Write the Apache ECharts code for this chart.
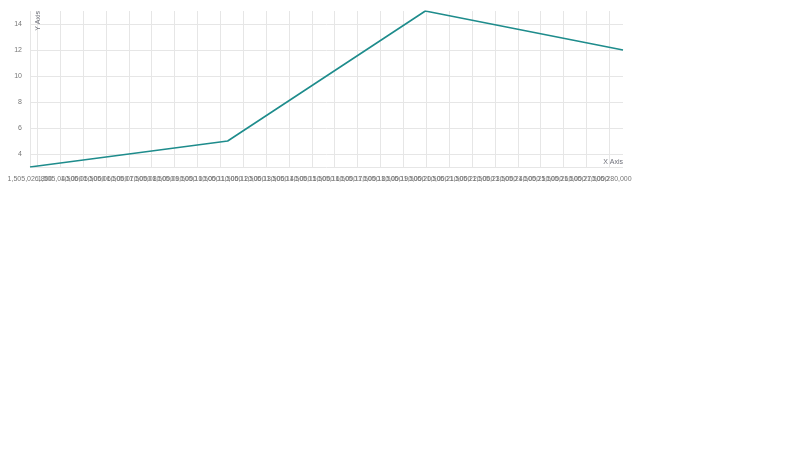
<!DOCTYPE html>
<html>
<head>
<meta charset="utf-8">
<script src="https://cdn.jsdelivr.net/npm/echarts@6/dist/echarts.min.js"></script>
<style>
html,body{margin:0;padding:0;background:#fff;}
#chart{width:800px;height:450px;}
</style>
</head>
<body>
<div id="chart"></div>
<script>
// Data (x: unix timestamps in seconds, one per day)
const xValues = [1505026800, 1505113200, 1505199600, 1505286000];
const yValues = [3, 5, 15, 12];
const xAxisName = 'X Axis';
const yAxisName = 'Y Axis';

const points = xValues.map((x, i) => [x, yValues[i]]);

const chart = echarts.init(document.getElementById('chart'));
chart.setOption({
  animation: false,
  grid: { left: 30, top: 11, width: 593, height: 156, containLabel: false },
  xAxis: {
    type: 'value',
    min: 'dataMin',
    max: 'dataMax',
    splitNumber: 26,
    name: xAxisName,
    nameLocation: 'end',
    nameGap: 0,
    nameTextStyle: { fontSize: 7, color: '#6e7079', align: 'right', verticalAlign: 'bottom', padding: [0, 0, 1, 0] },
    axisLine: { show: false },
    axisTick: { show: false },
    axisLabel: { fontSize: 7, color: '#777777', margin: 9, showMinLabel: true, showMaxLabel: false, hideOverlap: false },
    splitLine: { show: true, showMinLine: true, showMaxLine: false, lineStyle: { color: '#e6e6e6' } }
  },
  yAxis: {
    type: 'value',
    min: 'dataMin',
    max: 'dataMax',
    splitNumber: 5,
    name: yAxisName,
    nameLocation: 'end',
    nameGap: 0,
    nameRotate: 90,
    nameTextStyle: { fontSize: 7, color: '#6e7079', align: 'right', verticalAlign: 'top', padding: [5, 0, 0, 0] },
    axisLine: { show: false },
    axisTick: { show: false },
    axisLabel: { fontSize: 7, color: '#777777', margin: 8, showMinLabel: false, showMaxLabel: false },
    splitLine: { show: true, showMinLine: true, showMaxLine: false, lineStyle: { color: '#e6e6e6' } }
  },
  series: [{
    type: 'line',
    data: points,
    showSymbol: false,
    symbol: 'none',
    lineStyle: { color: '#1e8c8c', width: 1.6 },
    itemStyle: { color: '#1e8c8c' }
  }]
});
</script>
</body>
</html>
